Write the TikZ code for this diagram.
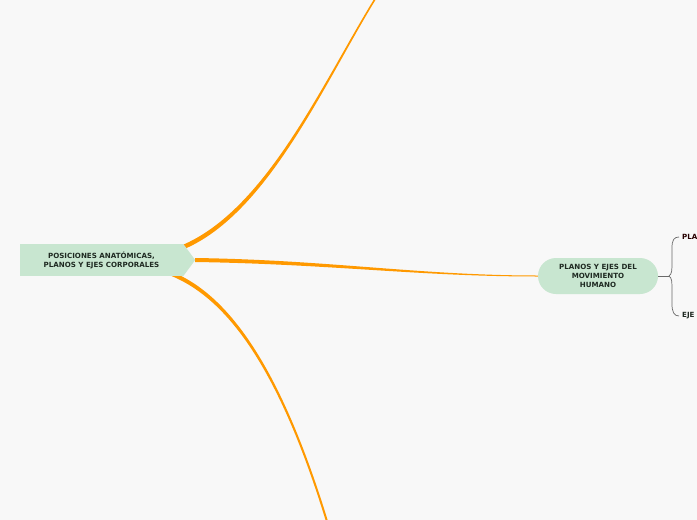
\documentclass[tikz,border=0pt]{standalone}
\usepackage{fontspec}
\setmainfont{DejaVu Sans}
\usetikzlibrary{calc}
\definecolor{bgc}{HTML}{F8F8F8}
\definecolor{nodefill}{HTML}{C8E6D0}
\definecolor{branch}{HTML}{FF9900}
\definecolor{txt}{HTML}{1F2A22}
\definecolor{bracec}{HTML}{6A6A6A}
\pgfdeclarelayer{bg}
\pgfsetlayers{bg,main}
\newcommand\taper[6]{%
  \fill[branch] ($(#1)!#5!90:(#2)$) .. controls ($(#2)!#5!-90:(#1)$) and ($(#3)!#6!90:(#4)$) .. ($(#4)!#6!-90:(#3)$)
    -- ($(#4)!#6!90:(#3)$) .. controls ($(#3)!#6!-90:(#4)$) and ($(#2)!#5!90:(#1)$) .. ($(#1)!#5!-90:(#2)$) -- cycle;}
\begin{document}
\begin{tikzpicture}[x=1pt,y=-1pt,
  lbl/.style={font=\bfseries\fontsize{7.1}{9}\selectfont, text=txt, align=center, inner sep=0pt},
  rootbox/.style={lbl, fill=nodefill, minimum width=163pt, minimum height=32pt},
  subbox/.style={lbl, fill=nodefill, rounded corners=18pt, minimum width=120pt, minimum height=36pt},
  leaf/.style={lbl, anchor=west}]
\useasboundingbox (0,0) rectangle (697,520);
\begin{pgfonlayer}{bg}
\fill[bgc] (0,0) rectangle (697,520);
\end{pgfonlayer}
\node[rootbox] (root) at (101.5,260) {POSICIONES ANATÓMICAS,\\PLANOS Y EJES CORPORALES};
\fill[nodefill] (root.north east) -- ([xshift=12pt]root.east) -- (root.south east) -- cycle;
\coordinate (tip) at ([xshift=12pt]root.east);
\node[subbox] (hum) at (598,276) {PLANOS Y EJES DEL\\MOVIMIENTO\\HUMANO};
\coordinate (topend) at (382,-12);
\coordinate (botend) at (329,528);
\coordinate (s1) at (181,248);
\coordinate (s3) at (172,274);
\begin{pgfonlayer}{bg}
\coordinate (a1) at (270,212);
\coordinate (a2) at (328,72);
\taper{s1}{a1}{a2}{topend}{2.2pt}{0.8pt}
\coordinate (b1) at (330,262);
\coordinate (b2) at (420,276);
\taper{tip}{b1}{b2}{hum.west}{2pt}{0.5pt}
\coordinate (c1) at (230,298);
\coordinate (c2) at (282,372);
\taper{s3}{c1}{c2}{botend}{2pt}{1pt}
\end{pgfonlayer}
\node[leaf, text=black!85!red] (pla) at (682,237) {PLA};
\node[leaf] (eje) at (682,316) {EJE};
\coordinate (bm) at (669,276);
\draw[bracec, line width=0.8pt] (hum.east) -- (bm);
\draw[bracec, line width=0.7pt] (bm) .. controls (672,274) and (672,270) .. (672,262)
  -- (672,248) .. controls (672,240) and (674,237) .. ([xshift=-3pt]pla.west);
\draw[bracec, line width=0.7pt] (bm) .. controls (672,278) and (672,282) .. (672,290)
  -- (672,304) .. controls (672,312) and (674,316) .. ([xshift=-3pt]eje.west);
\end{tikzpicture}
\end{document}
